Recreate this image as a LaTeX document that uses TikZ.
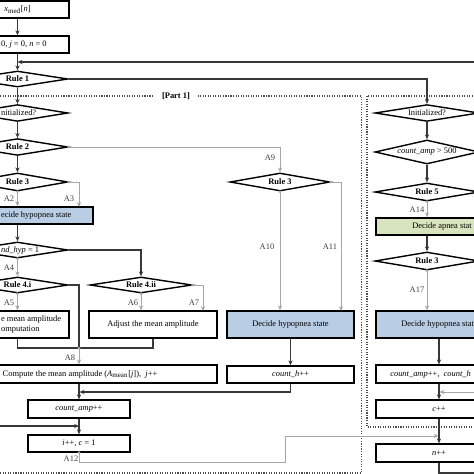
\documentclass[tikz,border=0pt]{standalone}
\usepackage{fontspec}
\setmainfont{Liberation Serif}
\usetikzlibrary{arrows.meta,shapes.geometric}
\definecolor{linedark}{HTML}{383838}
\definecolor{linegray}{HTML}{A6A6A6}
\definecolor{hypblue}{HTML}{B9CDE5}
\definecolor{apgreen}{HTML}{D7E4BD}
\tikzset{
  box/.style={draw=black, line width=0.9pt, rectangle, inner sep=0pt, minimum height=0.43cm},
  rulebox/.style={draw=black, line width=1pt, diamond, aspect=6, inner sep=0pt, minimum width=2.525cm, minimum height=0.42cm, font=\fontsize{6}{7}\selectfont\bfseries},
  flow/.style={draw=linedark, line width=0.85pt, -{Stealth[length=3.5pt,width=3pt]}},
  flowline/.style={draw=linedark, line width=0.85pt},
  alt/.style={draw=linegray, line width=0.7pt, -{Stealth[length=3.5pt,width=3pt]}},
  alab/.style={text=black!75, inner sep=0pt},
  part/.style={draw=black!70, line width=0.8pt, densely dotted}
}

\begin{document}
\begin{tikzpicture}[x=0.025cm, y=-0.025cm, font=\fontsize{6}{7}\selectfont]
			%%%%% START %%%%%
			\useasboundingbox (0,0) rectangle (474,474);
			\clip (0,0) rectangle (474,474);
			
			\draw[part] (-5,96) rectangle (361.5,473);
			\draw[part] (367,96) rectangle (480,427);
			\node[fill=white, inner xsep=6pt, font=\fontsize{6}{7}\selectfont\bfseries] (part1) at (176,96) {[Part 1]};
			
			% left column
			\node[box, minimum width=2.575cm] (xmed) at (17.5,9.5) {\textit{x}\textsubscript{med}[\textit{n}]};
			\node[box, minimum width=2.575cm] (initbox) at (17.5,44.5) {};
			\node[anchor=west, inner sep=0pt] (initt) at (0.8,44.5) {0, \textit{j} = 0, \textit{n} = 0};
			\node[rulebox, minimum height=0.4cm] (rule1) at (17.5,79) {Rule 1};
			\node[rulebox] (init1) at (17.5,113) {};
			\node[anchor=west, inner sep=0pt] (init1t) at (0.8,113) {nitialized?};
			\node[rulebox] (rule2) at (17.5,147) {Rule 2};
			\node[rulebox, minimum height=0.45cm] (rule3a) at (17.5,182) {Rule 3};
			\node[box, fill=hypblue, minimum width=3.15cm] (hypA) at (30,215.5) {};
			\node[anchor=west, inner sep=0pt] (hypAt) at (0.8,215.5) {ecide hypopnea state};
			\node[rulebox, minimum height=0.4cm] (found) at (17.5,250) {};
			\node[anchor=west, inner sep=0pt] (foundt) at (0.8,250) {\textit{nd\_hyp} = 1};
			\node[rulebox, minimum height=0.4cm] (rule4i) at (17.5,285) {Rule 4.i};
			\node[rulebox, minimum width=2.55cm, minimum height=0.4cm] (rule4ii) at (141,285) {Rule 4.ii};
			\node[box, minimum width=2.575cm, minimum height=0.675cm] (skip) at (17.5,324.5) {};
			\node[anchor=west, align=left, inner sep=0pt] (skipt) at (0.8,324.5) {e mean amplitude\\omputation};
			\node[box, minimum width=3.2cm, minimum height=0.675cm] (adjust) at (153,324.5) {Adjust the mean amplitude};
			\node[box, minimum width=6.85cm, minimum height=0.45cm] (compute) at (80,374) {Compute the mean amplitude (\textit{A}\textsubscript{mean}[\textit{j}]),\ \ \textit{j}++};
			\node[box, minimum width=2.55cm, minimum height=0.45cm] (countamp) at (79,409) {\textit{count\_amp}++};
			\node[box, minimum width=2.55cm] (iplus) at (79,443.5) {\textit{i}++, \textit{c} = 1};
			
			% middle column
			\node[rulebox, minimum width=2.5cm, minimum height=0.45cm] (rule3b) at (280,182) {Rule 3};
			\node[box, fill=hypblue, minimum width=3.175cm, minimum height=0.675cm] (hypB) at (290.5,324.5) {Decide hypopnea state};
			\node[box, minimum width=3.175cm] (counth) at (290.5,374.5) {\textit{count\_h}++};
			
			% right column
			\node[rulebox, minimum width=2.6cm, font=\fontsize{6}{7}\selectfont] (init2) at (427,113) {Initialized?};
			\node[rulebox, aspect=4, minimum width=2.6cm, minimum height=0.6cm, font=\fontsize{6}{7}\selectfont] (amp500) at (427,152) {\textit{count\_amp} > 500};
			\node[rulebox, minimum width=2.6cm, minimum height=0.45cm] (rule5) at (427,192) {Rule 5};
			\node[box, fill=apgreen, minimum width=3.45cm] (apnea) at (445,226.5) {};
			\node[anchor=west, inner sep=0pt] (apneat) at (412,226.5) {Decide apnea stat};
			\node[rulebox, minimum width=2.6cm, minimum height=0.45cm] (rule3c) at (427,261) {Rule 3};
			\node[box, fill=hypblue, minimum width=3.15cm, minimum height=0.675cm] (hypC) at (439,324.5) {};
			\node[anchor=west, inner sep=0pt] (hypCt) at (401,324.5) {Decide hypopnea stat};
			\node[box, minimum width=3.15cm, minimum height=0.45cm] (ampc) at (439,374) {};
			\node[anchor=west, inner sep=0pt] (ampct) at (390,374) {\textit{count\_amp}++,\ \ \textit{count\_h}};
			\node[box, minimum width=3.15cm, minimum height=0.45cm] (cplus) at (439,409) {\textit{c}++};
			\node[box, minimum width=3.15cm, minimum height=0.45cm] (nplus) at (439,453) {\textit{n}++};
			
			% free ends and corners
			\coordinate (loopin) at (17.5,62);
			\coordinate (loopfar) at (480,62);
			\coordinate (loopdown) at (480,473);
			\coordinate (a3) at (79,207);
			\coordinate (a7) at (203,311);
			\coordinate (a11) at (341,311);
			\coordinate (join8) at (79,348);
			\coordinate (hjoin) at (79.5,392);
			\coordinate (ampjoin) at (79,426);
			\coordinate (leftin) at (-5,426);
			\coordinate (njoin) at (438.5,436);
			\coordinate (cjoin) at (439.5,392);
			\coordinate (grayin) at (480,392);
			
			% dark flow
			\draw[flow] (xmed) -- (initbox);
			\draw[flow] (initbox) -- (rule1);
			\draw[flow] (loopfar) -- (loopin);
			\draw[flow] (rule1) -- (init1);
			\draw[flow] (rule1.east) -| (init2.north);
			\draw[flow] (init1) -- (rule2);
			\draw[flow] (rule2) -- (rule3a);
			\draw[flow] (hypA.south -| found.north) -- (found.north);
			\draw[flow] (found.east) -| (rule4ii.north);
			\draw[flowline] (rule4i.east) -| (join8);
			\draw[flowline] (skip.south) |- (join8);
			\draw[flowline] (adjust.south) |- (join8);
			\draw[flow] (countamp.north |- compute.south) -- (countamp.north);
			\draw[flow] (hypB) -- (counth);
			\draw[flow] (counth.south) |- (hjoin);
			\draw[flow] (leftin) -- (ampjoin);
			\draw[flow] (countamp) -- (iplus);
			\draw[flow] (init2) -- (amp500);
			\draw[flow] (amp500) -- (rule5);
			\draw[flow] (rule3c.north |- apnea.south) -- (rule3c.north);
			\draw[flow] (hypC) -- (ampc);
			\draw[flow] (ampc) -- (cplus);
			\draw[flow] (cplus) -- (nplus);
			\draw[flowline] (nplus.south) |- (loopdown);
			
			% gray branches
			\draw[alt] (rule2.east) -| (rule3b.north);
			\draw[alt] (rule3a.south) -- (rule3a.south |- hypA.north);
			\draw[alt] (rule3a.east) -| (a3);
			\draw[alt] (found) -- (rule4i);
			\draw[alt] (rule4i) -- (skip);
			\draw[alt] (rule4ii.south) -- (rule4ii.south |- adjust.north);
			\draw[alt] (rule4ii.east) -| (a7);
			\draw[alt] (join8) -- (join8 |- compute.north);
			\draw[alt] (rule3b.south) -- (rule3b.south |- hypB.north);
			\draw[alt] (rule3b.east) -| (a11);
			\draw[alt] (iplus.south) |- (285,462) |- (njoin);
			\draw[alt] (rule5.south) -- (rule5.south |- apnea.north);
			\draw[alt] (rule3c.south) -- (rule3c.south |- hypC.north);
			\draw[alt] (grayin) -- (cjoin);
			
			\foreach \p in {rule2.east,rule3a.east,rule3a.south,found.south,rule4i.south,rule4ii.east,rule4ii.south,join8,rule3b.east,rule3b.south,iplus.south,rule5.south,rule3c.south}
			  \fill[linegray] (\p) circle (1.5);
			
			% branch labels
			\node[alab] (lA2) at (9,199) {A2};
			\node[alab] (lA3) at (69,199) {A3};
			\node[alab] (lA4) at (9,268) {A4};
			\node[alab] (lA5) at (9,303) {A5};
			\node[alab] (lA6) at (133,303) {A6};
			\node[alab] (lA7) at (194,303) {A7};
			\node[alab] (lA8) at (70,358) {A8};
			\node[alab] (lA9) at (270,158) {A9};
			\node[alab] (lA10) at (267,247) {A10};
			\node[alab] (lA11) at (330,247) {A11};
			\node[alab] (lA12) at (71,459) {A12};
			\node[alab] (lA14) at (417,210) {A14};
			\node[alab] (lA17) at (417,290) {A17};
			%%%%% END %%%%%
\end{tikzpicture}
\end{document}
